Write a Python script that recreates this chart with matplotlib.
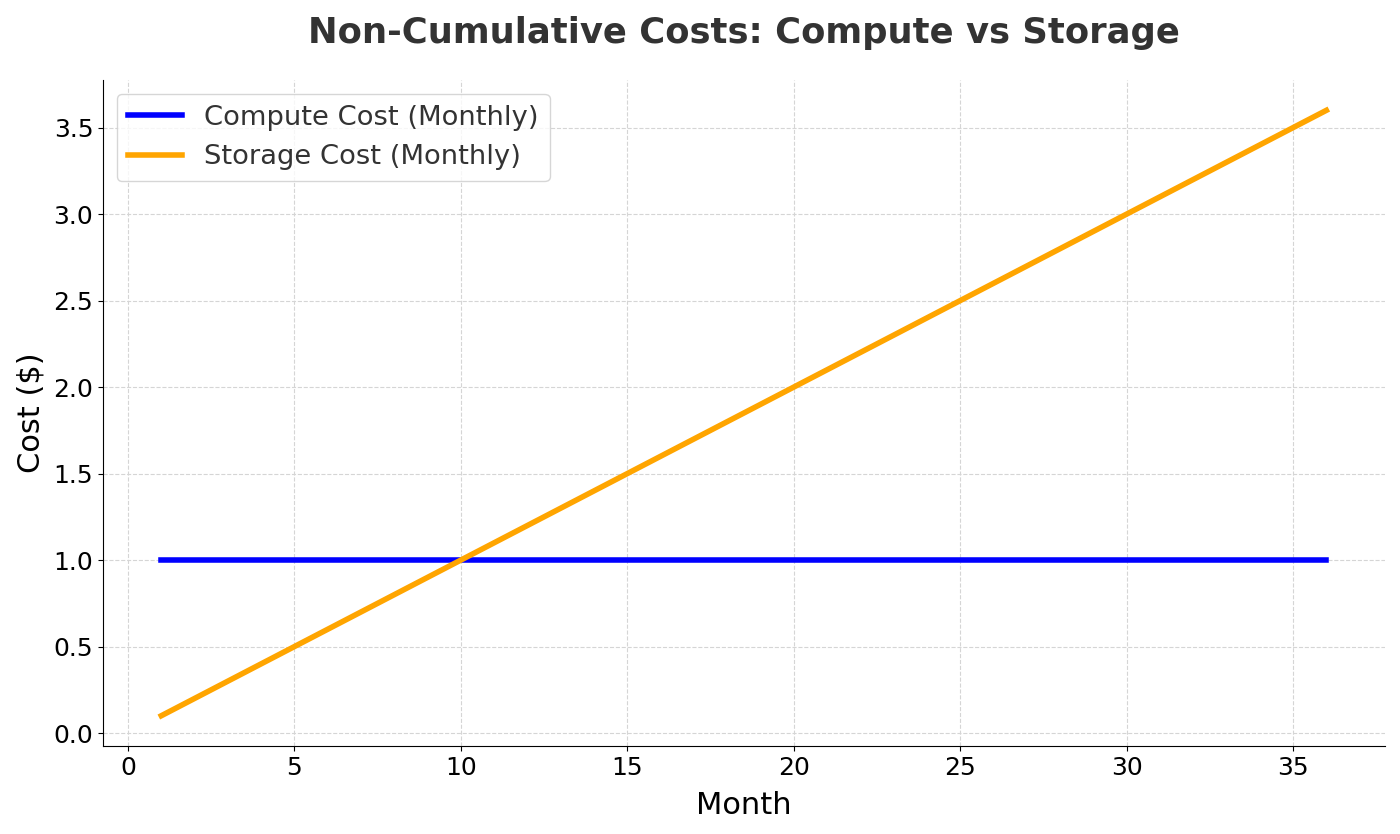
import numpy as np
import matplotlib.pyplot as plt

months = list(range(1, 37))
compute_cost = [1.0] * 36
storage_cost = [0.1, 0.2, 0.3, 0.4, 0.5, 0.6, 0.7, 0.8, 0.9, 1.0,
                1.1, 1.2, 1.3, 1.4, 1.5, 1.6, 1.7, 1.8, 1.9, 2.0,
                2.1, 2.2, 2.3, 2.4, 2.5, 2.6, 2.7, 2.8, 2.9, 3.0,
                3.1, 3.2, 3.3, 3.4, 3.5, 3.6]

fig = plt.figure(figsize=(14, 8.34), dpi=100)
ax = fig.add_axes([0.0736, 0.1055, 0.9154, 0.7985])

ax.plot(months, compute_cost, color='blue', linewidth=4, label='Compute Cost (Monthly)')
ax.plot(months, storage_cost, color='orange', linewidth=4, label='Storage Cost (Monthly)')

ax.set_title('Non-Cumulative Costs: Compute vs Storage', fontsize=25.5, fontweight='bold',
             color='#333333', pad=27)
ax.set_xlabel('Month', fontsize=22, labelpad=8)
ax.set_ylabel('Cost ($)', fontsize=22, labelpad=6)
ax.tick_params(labelsize=18)
ax.grid(True, linestyle='--', color='#d5d5d5', linewidth=0.8)
ax.spines['top'].set_visible(False)
ax.spines['right'].set_visible(False)
leg = ax.legend(fontsize=19.7, loc='upper left')
for t in leg.get_texts():
    t.set_color('#333333')

plt.savefig('out.png', dpi=100)
